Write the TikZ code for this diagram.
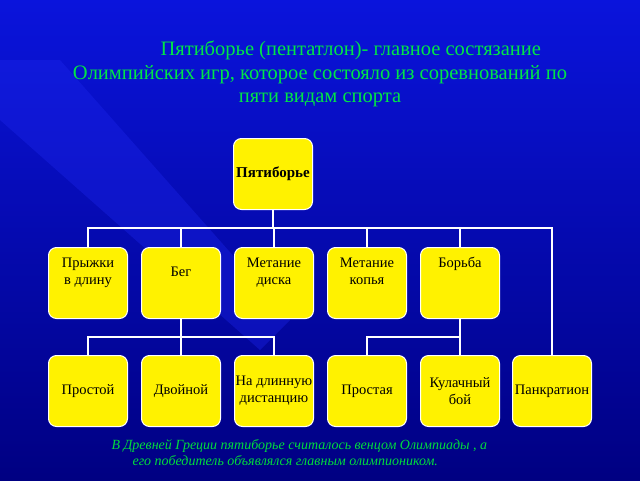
\documentclass[tikz,border=0pt]{standalone}
\usepackage{fontspec}
\setmainfont{Liberation Serif}
\definecolor{bgtop}{RGB}{10,20,220}
\definecolor{bgbot}{RGB}{0,0,130}
\definecolor{streak}{RGB}{30,40,240}
\definecolor{ttl}{RGB}{0,230,70}
\definecolor{nt}{RGB}{0,220,60}
\begin{document}
\begin{tikzpicture}[x=1pt,y=-1pt,
  box/.style={draw=white,line width=1pt,fill=yellow,rounded corners=8pt,minimum width=79pt,minimum height=71pt,align=center,font=\fontsize{14.5}{17}\selectfont,inner sep=1pt,anchor=north west},
  ln/.style={draw=white,line width=1.5pt}]
\useasboundingbox (0,0) rectangle (640,480);
\shade[top color=bgtop,bottom color=bgbot] (0,0) rectangle (640,480);
\fill[streak,opacity=0.35] (0,60) -- (60,60) -- (290,320) -- (260,350) -- (0,120) -- cycle;
\node[text=ttl,align=center,font=\fontsize{20.5}{23.5}\selectfont] (title) at (320,74)
 {\hspace*{3em}Пятиборье (пентатлон)- главное состязание\\Олимпийских игр, которое состояло из соревнований по\\пяти видам спорта};
\node[box,font=\bfseries\fontsize{15}{17}\selectfont] (p) at (233,138) {Пятиборье};
\node[box] (a) at (48,247) {Прыжки\\ в длину\\[6pt]};
\node[box] (b) at (141,247) {Бег\\[6pt]};
\node[box] (c) at (234,247) {Метание\\диска\\[6pt]};
\node[box] (d) at (327,247) {Метание\\ копья\\[6pt]};
\node[box] (e) at (420,247) {Борьба\\[24pt]};
\node[box] (f) at (48,355) {Простой};
\node[box] (g) at (141,355) {Двойной};
\node[box] (h) at (234,355) {На длинную\\ дистанцию};
\node[box] (i) at (327,355) {Простая};
\node[box] (j) at (420,355) {Кулачный\\ бой};
\node[box] (k) at (512,355) {Панкратион};
\coordinate (t1) at (273,228);
\draw[ln] (p.south) -- (t1);
\draw[ln] (a.north) |- (t1) -| (k.north);
\foreach \n in {b,c,d,e} \draw[ln] (\n.north) -- (\n.north |- t1);
\coordinate (t2) at (181,337);
\draw[ln] (b.south) -- (g.north);
\draw[ln] (f.north) |- (t2) -| (h.north);
\coordinate (t3) at (460,337);
\draw[ln] (e.south) -- (j.north);
\draw[ln] (i.north) |- (t3);
\node[text=nt,align=left,font=\itshape\fontsize{14}{16}\selectfont,anchor=north west] (note) at (108,436)
 {В Древней Греции пятиборье считалось венцом Олимпиады , а\\\hspace*{1.5em}его победитель объявлялся главным олимпиоником.};
\end{tikzpicture}
\end{document}
